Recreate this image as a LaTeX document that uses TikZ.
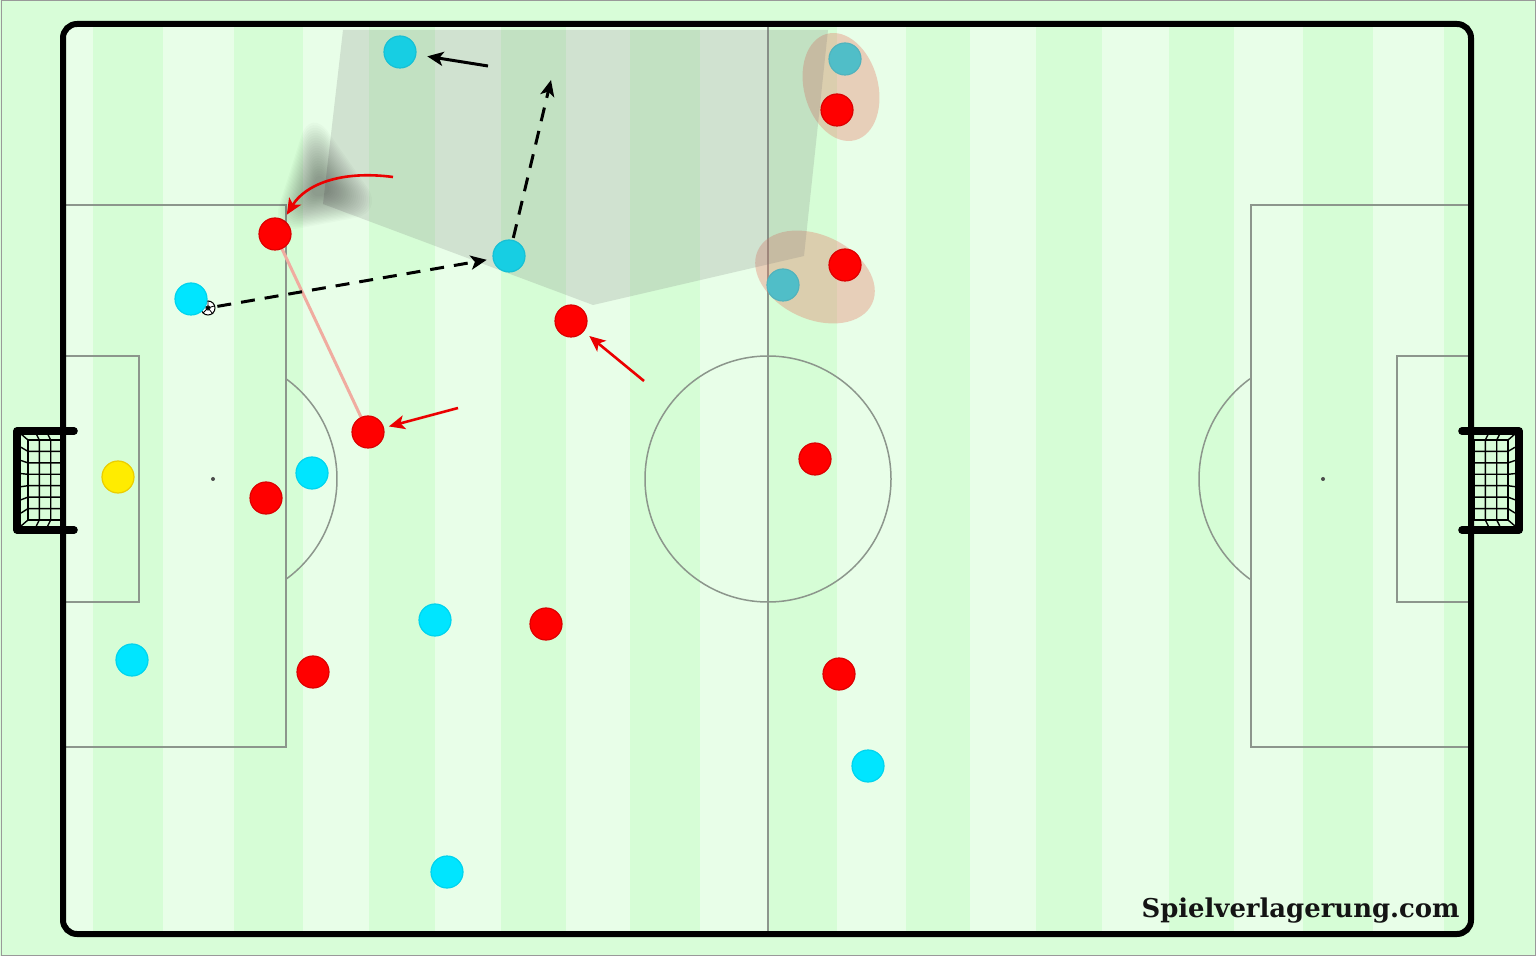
\documentclass[tikz,border=0pt]{standalone}
\usepackage{fontspec}
\usepackage{graphicx}
\usetikzlibrary{arrows.meta,calc}
\newfontfamily\wmfont{DejaVu Serif}
\definecolor{outerbg}{RGB}{216,253,216}
\definecolor{lightS}{RGB}{232,254,232}
\definecolor{darkS}{RGB}{214,253,214}
\definecolor{lineC}{RGB}{140,150,140}
\definecolor{cyanF}{RGB}{0,229,255}
\definecolor{cyanE}{RGB}{0,212,238}
\definecolor{redF}{RGB}{255,0,0}
\definecolor{redE}{RGB}{220,0,0}
\definecolor{yelF}{RGB}{255,236,0}
\definecolor{yelE}{RGB}{235,205,0}
\definecolor{salmonL}{RGB}{240,172,160}
\definecolor{ellC}{RGB}{230,120,100}
\definecolor{arrRed}{RGB}{235,0,0}
\definecolor{wmC}{RGB}{20,20,20}
\newcommand\goalnet{%
  \draw[black, line width=0.7pt] (28,440) rectangle (62,520);
  \foreach \x in {39.3,50.7} \draw[black,line width=0.7pt] (\x,440) -- (\x,520) (\x,440) -- (\x-3,434) (\x,520) -- (\x-3,526);
  \foreach \y in {451.4,462.9,474.3,485.7,497.1,508.6} \draw[black,line width=0.7pt] (28,\y) -- (62,\y) (28,\y) -- (21,{479+(\y-479)*1.15});
  \draw[black,line width=0.7pt] (28,440) -- (21,434) (28,520) -- (21,526);
  \draw[black, line width=3.8pt, line cap=round, line join=round] (74,431) -- (17,431) -- (17,530) -- (74,530);
}
\begin{document}
\begin{tikzpicture}[x=0.5pt,y=-0.5pt,
  player/.style={circle, minimum size=16pt, inner sep=0pt, line width=0.6pt},
  cyanP/.style={player, fill=cyanF, draw=cyanE},
  redP/.style={player, fill=redF, draw=redE},
  yelP/.style={player, fill=yelF, draw=yelE},
  pline/.style={lineC, line width=0.75pt},
  blackArr/.style={line width=1.5pt, black, -{Stealth[length=8pt,width=7pt,inset=2pt]}},
  dashArr/.style={blackArr, dash pattern=on 7pt off 5pt},
  redArr/.style={line width=1.3pt, arrRed, -{Stealth[length=8pt,width=7pt,inset=2pt]}},
  overlay/.style={fill=black!55, opacity=0.2},
  pairmark/.style={fill=ellC, opacity=0.35}
]
\useasboundingbox (0,0) rectangle (1536,956);
\fill[outerbg] (0,0) rectangle (1536,956);
\draw[gray!80, line width=0.5pt] (1,1) rectangle (1535,955);

% stripes
\begin{scope}
  \clip[rounded corners=7pt] (63,24) rectangle (1471,934);
  \fill[lightS] (63,24) rectangle (1471,934);
  \foreach \a/\b in {93/163, 234/303, 369/435, 501/566, 630/700, 769/837, 906/970, 1036/1102, 1169/1234, 1303/1373, 1444/1471}
    \fill[darkS] (\a,24) rectangle (\b,934);
\end{scope}

% pitch markings
\draw[pline] (63,205) -- (286,205) -- (286,747) -- (63,747);
\draw[pline] (63,356) -- (139,356) -- (139,602) -- (63,602);
\draw[pline] (213,479) ++(-53.9:124) arc (-53.9:53.9:124);
\fill[black!70] (213,479) circle (2);
\draw[pline] (768,24) -- (768,934);
\draw[pline] (768,479) circle (123);
\draw[pline] (1471,205) -- (1251,205) -- (1251,747) -- (1471,747);
\draw[pline] (1471,356) -- (1397,356) -- (1397,602) -- (1471,602);
\draw[pline] (1323,479) ++(126.1:124) arc (126.1:233.9:124);
\fill[black!70] (1323,479) circle (2);

% border
\draw[black, line width=3pt, rounded corners=7pt] (63,24) rectangle (1471,934);

% goals
\goalnet
\begin{scope}[shift={(1536,0)}, xscale=-1]
  \goalnet
\end{scope}

% ball
\node[circle, minimum size=7pt, inner sep=0pt, fill=white, draw=black, line width=0.5pt] (ball) at (208,308) {};
\fill[black!85] (208,308) circle (2.6);
\draw[black, line width=0.4pt] (208,308) -- (208,301) (208,308) -- (214,306) (208,308) -- (203,313) (208,308) -- (213,314) (208,308) -- (202,305);

% blue players
\node[cyanP] (c1) at (400,52) {};
\node[cyanP] (c2) at (509,256) {};
\node[cyanP] (c3) at (191,299) {};
\node[cyanP] (c4) at (312,473) {};
\node[cyanP] (c5) at (435,620) {};
\node[cyanP] (c6) at (132,660) {};
\node[cyanP] (c7) at (447,872) {};
\node[cyanP] (c8) at (868,766) {};
\node[cyanP] (c9) at (845,59) {};
\node[cyanP] (c10) at (783,285) {};
\node[yelP] (gk) at (118,477) {};

% pair marks
\fill[pairmark, rotate around={15:(841,87)}] (841,87) ellipse [x radius=37, y radius=55];
\fill[pairmark, rotate around={-25:(815,277)}] (815,277) ellipse [x radius=63, y radius=42];

% red players
\draw[salmonL, line width=1.5pt] (275,234) -- (368,432);
\node[redP] (p1) at (275,234) {};
\node[redP] (p2) at (368,432) {};
\node[redP] (p3) at (571,321) {};
\node[redP] (p4) at (266,498) {};
\node[redP] (p5) at (313,672) {};
\node[redP] (p6) at (546,624) {};
\node[redP] (p7) at (815,459) {};
\node[redP] (p8) at (839,674) {};
\node[redP] (p9) at (837,110) {};
\node[redP] (p10) at (845,265) {};

% shaded zone
\fill[overlay] (343,30) -- (828,30) -- (804,256) -- (593,305) -- (323,204) -- cycle;

% shadow cone (soft)
\coordinate (sc) at (320,188);
\coordinate (sv1) at (313,128);
\coordinate (sv2) at (283,222);
\coordinate (sv3) at (368,206);
\foreach \s [evaluate=\s as \rr using 3+\s*9] in {0.3,0.35,...,1.4}
  \fill[black, opacity=0.02, rounded corners=\rr pt] ($(sc)!\s!(sv1)$) -- ($(sc)!\s!(sv2)$) -- ($(sc)!\s!(sv3)$) -- cycle;

% arrows
\coordinate (s1) at (488,66);
\coordinate (d1) at (551,80);
\coordinate (r1) at (393,177);
\coordinate (r2) at (458,408);
\coordinate (r3) at (644,381);
\draw[blackArr, shorten >=5.5pt] (s1) -- (c1);
\draw[dashArr, shorten >=3pt, shorten <=1pt] (ball) -- (c2);
\draw[dashArr, shorten <=1pt] (c2) -- (d1);
\draw[redArr, shorten >=3pt] (r1) .. controls (340,170) and (305,185) .. (p1);
\draw[redArr, shorten >=2.5pt] (r2) -- (p2);
\draw[redArr, shorten >=3.5pt] (r3) -- (p3);

% watermark
\node[anchor=base east, inner sep=0pt, text=wmC] (wm) at (1460,917) {\resizebox{159pt}{!}{\wmfont\bfseries Spielverlagerung.com}};
\end{tikzpicture}
\end{document}
